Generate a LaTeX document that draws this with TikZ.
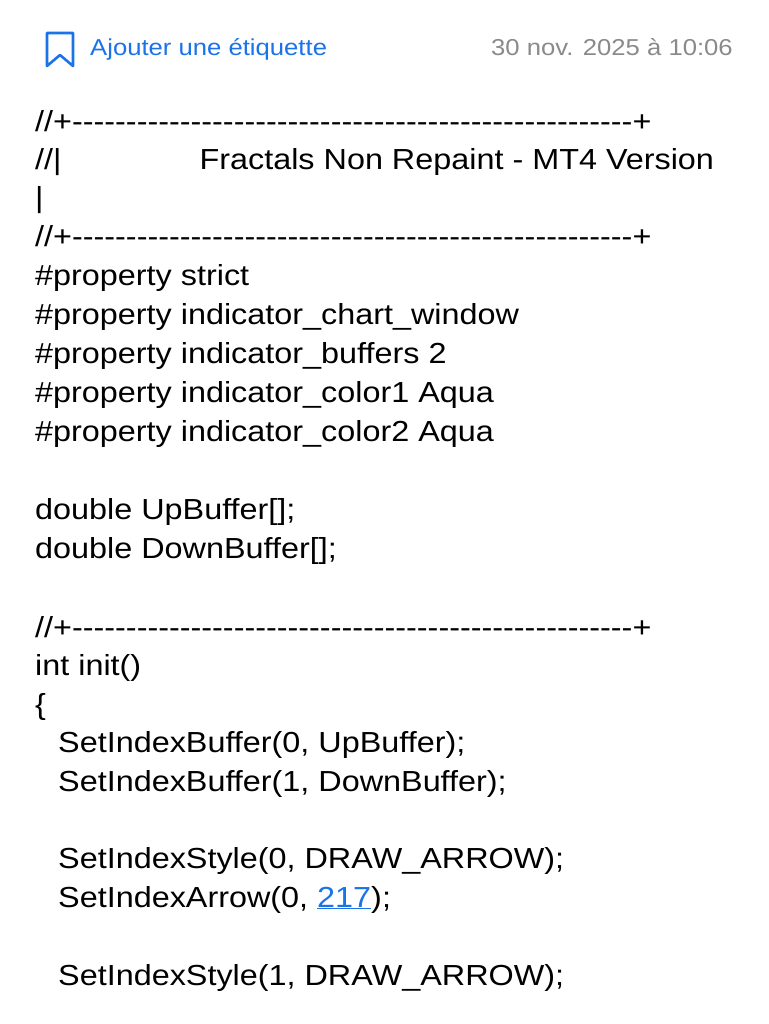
\documentclass[tikz,border=0pt]{standalone}
\usepackage{fontspec}
\setmainfont[Ligatures=TeXOff,FakeStretch=1.116]{Liberation Sans}
\definecolor{linkblue}{HTML}{1A73E8}
\definecolor{dategray}{HTML}{8A8A8A}
\begin{document}
\begin{tikzpicture}[x=1pt,y=-1pt,
  codeline/.style={anchor=base west, inner sep=0pt, font=\fontsize{29}{34}\selectfont},
  head/.style={inner sep=0pt, font=\fontsize{23}{27}\selectfont}]
\useasboundingbox[fill=white] (0,0) rectangle (768,1024);
% header
\draw[linkblue, line width=2.6pt, line join=round] (47,33) -- (73,33) -- (73,66) -- (60,55) -- (47,66) -- cycle;
\node (tag) [head, anchor=base west, text=linkblue] at (90,56) {Ajouter une étiquette};
\node (date) [head, anchor=base east, text=dategray] at (733,56) {30 nov. 2025 à 10:06};
% code
\def\dashes{----------------------------------------------------}
\node (l1) [codeline] at (35,132) {//+\dashes+};
\node (l2) [codeline] at (35,170) {//|\hspace{138pt}Fractals Non Repaint - MT4 Version};
\node (l3) [codeline] at (35,208) {|};
\node (l4) [codeline] at (35,247) {//+\dashes+};
\node (l5) [codeline] at (35,285) {\#property strict};
\node (l6) [codeline] at (35,324) {\#property indicator\_chart\_window};
\node (l7) [codeline] at (35,363) {\#property indicator\_buffers 2};
\node (l8) [codeline] at (35,402) {\#property indicator\_color1 Aqua};
\node (l9) [codeline] at (35,441) {\#property indicator\_color2 Aqua};
\node (l10) [codeline] at (35,519) {double UpBuffer[];};
\node (l11) [codeline] at (35,558) {double DownBuffer[];};
\node (l12) [codeline] at (35,637) {//+\dashes+};
\node (l13) [codeline] at (35,675) {int init()};
\node (l14) [codeline] at (35,714) {\{};
\node (l15) [codeline] at (58,752) {SetIndexBuffer(0, UpBuffer);};
\node (l16) [codeline] at (58,791) {SetIndexBuffer(1, DownBuffer);};
\node (l17) [codeline] at (58,868) {SetIndexStyle(0, DRAW\_ARROW);};
\node (l18) [codeline] at (58,907) {SetIndexArrow(0, {\color{linkblue}\underline{217}});};
\node (l19) [codeline] at (58,985) {SetIndexStyle(1, DRAW\_ARROW);};
\end{tikzpicture}
\end{document}
